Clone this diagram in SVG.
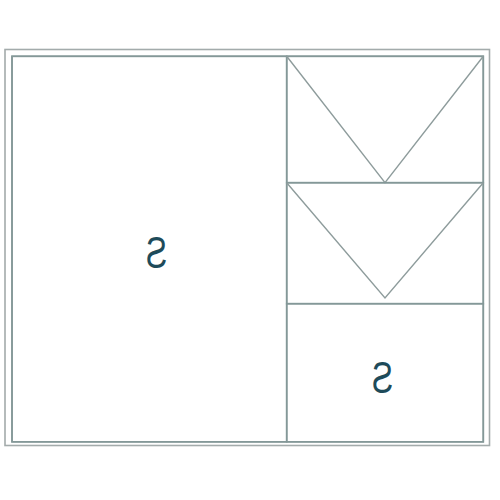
<svg xmlns="http://www.w3.org/2000/svg" width="500" height="500" viewBox="0 0 500 500">
<style>
.outer{fill:none;stroke:#a3abab;stroke-width:1.6}
.frame{fill:none;stroke:#849898;stroke-width:1.6}
.diag{fill:none;stroke:#8e9c9c;stroke-width:1.4}
.lbl{font-family:"Liberation Sans",Arial,sans-serif;font-size:44px;fill:#1e4b5a;text-anchor:middle}
</style>
<rect width="500" height="500" fill="#ffffff"/>
<g id="outer-frame">
<rect class="outer" x="5" y="49.5" width="484.5" height="396"/>
<rect class="frame" x="12" y="56.3" width="471.3" height="385.5"/>
</g>
<g id="fixed-pane">
<rect class="frame" x="12" y="56.3" width="274.7" height="385.5"/>
<text class="lbl" transform="translate(156.5,268) scale(-0.73,1)">S</text>
</g>
<g id="top-awning">
<rect class="frame" x="286.7" y="56.3" width="196.6" height="126.4"/>
<polyline class="diag" points="286.7,56.3 385,182.7 483.3,56.3"/>
</g>
<g id="middle-awning">
<rect class="frame" x="286.7" y="182.7" width="196.6" height="121"/>
<polyline class="diag" points="286.7,182.7 385,298 483.3,182.7"/>
</g>
<g id="bottom-pane">
<rect class="frame" x="286.7" y="303.7" width="196.6" height="138.1"/>
<text class="lbl" transform="translate(382.5,393) scale(-0.73,1)">S</text>
</g>
</svg>
